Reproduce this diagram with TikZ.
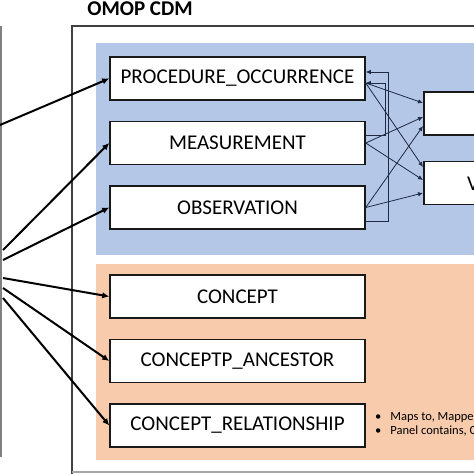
\documentclass[tikz,border=0pt]{standalone}
\usepackage{fontspec}
\setmainfont{Carlito}
\usetikzlibrary{positioning,arrows.meta}
\definecolor{panelblue}{HTML}{B4C7E7}
\definecolor{panelpeach}{HTML}{F8CBAD}
\definecolor{linknavy}{HTML}{1F2A44}
\begin{document}
\begin{tikzpicture}[x=1pt,y=-1pt,
    tbl/.style={draw=black!90, line width=1.5pt, fill=white, minimum width=255pt, minimum height=43pt, inner sep=0pt, font=\fontsize{21}{25}\selectfont},
    feed/.style={line width=2pt, -{Latex[length=7pt,width=6.5pt]}},
    link/.style={draw=linknavy, line width=0.8pt, -{Latex[length=5pt,width=4.5pt]}},
    note/.style={anchor=base west, inner sep=0pt, font=\fontsize{12.5}{14.5}\selectfont}]
        \useasboundingbox (0,0) rectangle (474,474);
        \clip (0,0) rectangle (474,474);
        \node[font=\fontsize{21}{25}\selectfont\bfseries] (title) at (140,8.5) {OMOP CDM};
        \draw[draw=black!50, line width=2.5pt] (1,26) -- (1,457);
        \draw[draw=black!75, line width=1.2pt] (72,480) -- (72,26) -- (480,26);
        \draw[draw=black!35, line width=2.5pt] (72,472) -- (480,472);
        \fill[panelblue] (96,43) rectangle (480,255);
        \fill[panelpeach] (96,264) rectangle (480,460);

        \node[tbl] (proc) at (237.5,78.5) {PROCEDURE\_OCCURRENCE};
        \node[tbl, below=20pt of proc] (meas) {MEASUREMENT};
        \node[tbl, below=20pt of meas] (obs) {OBSERVATION};
        \node[tbl] (concept) at (237.5,296.5) {CONCEPT};
        \node[tbl, below=20pt of concept] (ancestor) {CONCEPTP\_ANCESTOR};
        \node[tbl, below=20pt of ancestor] (rel) {CONCEPT\_RELATIONSHIP};
        \node[tbl, anchor=west] (vo1) at (423,113.5) {};
        \node[tbl, anchor=west] (vo2) at (423,183) {};
        \node[note, font=\fontsize{21}{25}\selectfont] (vlabel) at (467,190.5) {V};
        \node[note] (note1) at (375,420) {\textbullet\hspace{9pt}Maps to, Mappe};
        \node[note] (note2) at (375,434) {\textbullet\hspace{9pt}Panel contains, C};

        \coordinate (s1) at (0,125);
        \coordinate (s2) at (3,250);
        \coordinate (s3) at (3,260);
        \coordinate (s4) at (3,278);
        \coordinate (s5) at (3,288);
        \coordinate (s6) at (3,298);
        \foreach \s/\t in {s1/proc, s2/meas, s3/obs, s4/concept, s5/ancestor, s6/rel}{
            \draw[feed] (\s) -- (\t.west);
        }

        \coordinate (ptop) at ([yshift=-4.5pt]proc.east);
        \draw[link] ([yshift=7.5pt]meas.east) -- ++(20,0) |- (ptop);
        \draw[link] ([yshift=-14pt]obs.east) -- ++(23,0) |- ([yshift=6.5pt]proc.east);
        \foreach \a/\b/\c in {ptop/10.5/16, meas.east/-3.5/3, obs.east/-12.5/-10}{
            \draw[link] (\a) -- ([yshift=\b pt]vo1.west);
            \draw[link] (\a) -- ([yshift=\c pt]vo2.west);
        }
    \end{tikzpicture}
\end{document}
